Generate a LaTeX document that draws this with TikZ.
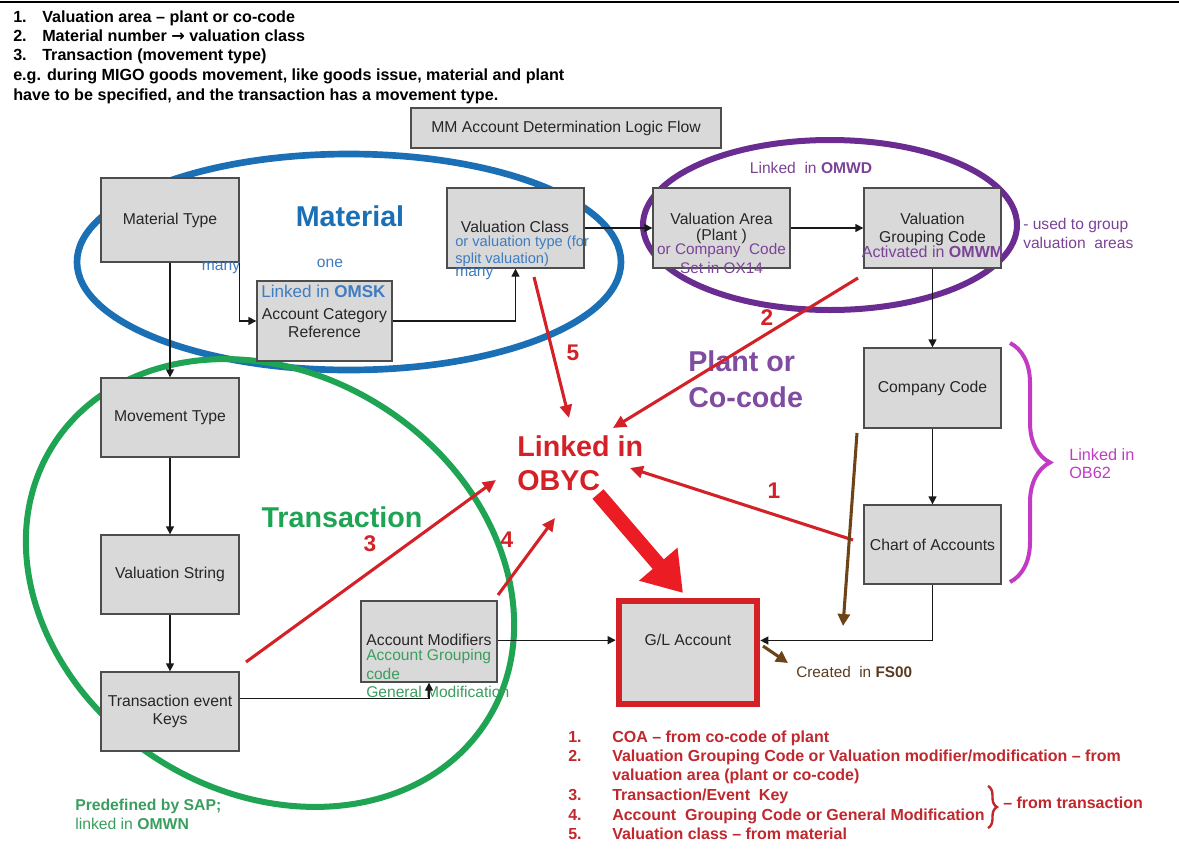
\documentclass[tikz,border=0pt]{standalone}
\usepackage{fontspec}
\setmainfont{Liberation Sans}
\newfontfamily\symfont{DejaVu Sans}
\usetikzlibrary{arrows.meta,decorations.pathreplacing,calc}
\definecolor{boxgray}{HTML}{D9D9D9}
\definecolor{boxline}{HTML}{4D4D4D}
\definecolor{mblue}{HTML}{1B6FB5}
\definecolor{tblue}{HTML}{3F7CC0}
\definecolor{mpurple}{HTML}{6A2C91}
\definecolor{tpurple}{HTML}{7B4397}
\definecolor{mgreen}{HTML}{1EA453}
\definecolor{tgreen}{HTML}{3A9E5E}
\definecolor{mred}{HTML}{D42027}
\definecolor{lred}{HTML}{C0282E}
\definecolor{fatred}{HTML}{EC1C24}
\definecolor{mbrown}{HTML}{6E4317}
\definecolor{tbrown}{HTML}{5A3B1F}
\definecolor{mmag}{HTML}{C23BC4}
\begin{document}
\begin{tikzpicture}[x=0.75pt,y=-0.75pt,
  box/.style={draw=boxline, fill=boxgray, line width=1pt, inner sep=0pt, align=center,
    font=\fontsize{11.8}{13.5}\selectfont, text=black!85},
  btext/.style={inner sep=0pt, align=center, font=\fontsize{11.8}{13.5}\selectfont, text=black!85},
  conn/.style={draw=black!90, line width=1pt, -{Triangle[length=6pt,width=6pt]}},
  redarr/.style={draw=mred, line width=2.3pt, -{Triangle[length=9.75pt,width=9pt]}},
  brownarr/.style={draw=mbrown, line width=2.3pt, -{Triangle[length=9pt,width=9pt]}},
  hdr/.style={anchor=base west, inner sep=0pt, font=\bfseries\fontsize{12.1}{14}\selectfont},
  small/.style={inner sep=0pt, font=\fontsize{11.7}{13}\selectfont},
  big/.style={inner sep=0pt, font=\bfseries\fontsize{21.5}{27}\selectfont},
  num/.style={inner sep=0pt, text=mred, font=\bfseries\fontsize{17}{20}\selectfont},
  leg/.style={anchor=base west, inner sep=0pt, text=lred, font=\bfseries\fontsize{12}{13}\selectfont}]
\useasboundingbox[fill=white] (0,0) rectangle (1179,858);
\draw[line width=1.5pt] (0,2) -- (1179,2);

% header
\node[hdr] (h1n) at (13,22.5) {1.};
\node[hdr] (h1) at (42,22.5) {Valuation area – plant or co-code};
\node[hdr] (h2n) at (13,41.5) {2.};
\node[hdr] (h2) at (42,41.5) {Material number {\symfont\bfseries →} valuation class};
\node[hdr] (h3n) at (13,60.5) {3.};
\node[hdr] (h3) at (42,60.5) {Transaction (movement type)};
\node[hdr] (h4) at (13,80.5) {e.g. during MIGO goods movement, like goods issue, material and plant};
\node[hdr] (h5) at (13,100.5) {have to be specified, and the transaction has a movement type.};

\node[box, minimum width=232.5pt, minimum height=30pt] (title) at (566,128) {MM Account Determination Logic Flow};

% ellipses
\draw[mblue, line width=5pt] (349,262) ellipse [x radius=204pt, y radius=81pt];
\draw[mpurple, line width=4.5pt] (830,225) ellipse [x radius=140.25pt, y radius=63.75pt];
\draw[mgreen, line width=4.5pt, rotate around={-32.5:(270,583)}] (270,583) ellipse [x radius=192.75pt, y radius=156.75pt];

% boxes
\node[box, minimum width=103.5pt, minimum height=63pt] (mattype) at (170,220) {Material Type};
\node[box, minimum width=101.25pt, minimum height=60pt] (acr) at (324.5,321) {\\[-2pt]Account Category\\Reference};
\node[box, minimum width=102.75pt, minimum height=60pt] (vclass) at (515.5,228) {};
\node[box, minimum width=102.75pt, minimum height=60pt] (varea) at (721.5,228) {};
\node[box, minimum width=102.75pt, minimum height=60pt] (vgc) at (932.5,228) {};
\node[box, minimum width=102.75pt, minimum height=60pt] (ccode) at (932.5,388) {Company Code};
\node[box, minimum width=102.75pt, minimum height=59.25pt] (coa) at (932.5,544.5) {Chart of Accounts};
\node[box, minimum width=103.5pt, minimum height=59.25pt] (movtype) at (170,417.5) {Movement Type};
\node[box, minimum width=103.5pt, minimum height=59.25pt] (valstr) at (170,574.5) {Valuation String};
\node[box, minimum width=103.5pt, minimum height=59.25pt] (tek) at (170,711.5) {Transaction event\\Keys};
\node[box, minimum width=102pt, minimum height=60.75pt] (accmod) at (429,641.5) {};
\node[box, draw=mred, line width=5pt, minimum width=103.5pt, minimum height=77.25pt] (gl) at (688,652.5) {};

% box texts
\node[btext] (vctext) at (515,227) {Valuation Class};
\node[small, anchor=west, text=tblue, align=left, font=\fontsize{11}{12.8}\selectfont] (vcsub) at (455,251) {or valuation type (for\\split valuation)};
\node[small, anchor=west, text=tblue] (many2) at (455,274) {many};
\node[btext, font=\fontsize{11.8}{12}\selectfont] (vatext) at (721.5,228) {Valuation Area\\(Plant )};
\node[inner sep=0pt, align=center, text=tpurple, font=\fontsize{11.5}{14}\selectfont] (vasub) at (721.5,258.5) {or Company\ \ Code\\Set in OX14};
\node[btext] (vgctext) at (932.5,229.5) {Valuation\\Grouping Code};
\node[small, text=tpurple, font=\fontsize{12}{13}\selectfont] (vgcsub) at (932.5,252) {Activated in \textbf{OMWM}};
\node[small, anchor=west, text=tblue, font=\fontsize{12.8}{14}\selectfont] (omsk) at (261,291) {Linked in \textbf{OMSK}};
\node[btext] (amtext) at (429,640) {Account Modifiers};
\node[small, anchor=west, text=tgreen, align=left, font=\fontsize{11.7}{13.9}\selectfont] (amsub) at (366,673.5) {Account Grouping\\code\\General Modification};
\node[btext] (gltext) at (688,640) {G/L Account};

% labels
\node[big, text=mblue] (matlbl) at (350,216) {Material};
\node[small, text=tblue] (many1) at (221,268) {many};
\node[small, text=tblue] (one) at (330,263) {one};
\node[small, text=tpurple] (omwd) at (811,168) {Linked\ \ in \textbf{OMWD}};
\node[small, anchor=west, text=tpurple, align=left, font=\fontsize{11.7}{14.3}\selectfont] (used) at (1023,233.5) {- used to group\\valuation\ \ areas};
\node[big, text=mpurple!85, align=left, anchor=west] (plant) at (688,379) {Plant or\\Co-code};
\node[big, text=mgreen] (trans) at (342,517) {Transaction};
\node[small, anchor=west, text=mmag, align=left, font=\fontsize{12.2}{13.5}\selectfont] (ob62) at (1069,464) {Linked in\\OB62};
\node[small, anchor=west, text=tgreen, align=left, font=\fontsize{11.8}{14.3}\selectfont] (omwn) at (75,814.5) {\textbf{Predefined by SAP;}\\linked in \textbf{OMWN}};
\node[small, anchor=west, text=tbrown, font=\fontsize{11.5}{13}\selectfont] (fs00) at (796,672) {Created\ \ in \textbf{FS00}};
\node[inner sep=0pt, anchor=west, text=mred, align=left, font=\bfseries\fontsize{21.5}{25.5}\selectfont] (obyc) at (517,463) {Linked in\\OBYC};

% black connectors
\draw[conn] (mattype.south) -- (movtype.north);
\draw[conn] (mattype.south east) |- (acr.west);
\draw[conn] (acr.east) -| (vclass.south);
\draw[conn] (vclass.east) -- (varea.west);
\draw[conn] (varea.east) -- (vgc.west);
\draw[conn] (vgc.south) -- (ccode.north);
\draw[conn] (ccode.south) -- (coa.north);
\draw[conn] (coa.south) |- ([yshift=9pt]gl.east);
\draw[conn] (movtype.south) -- (valstr.north);
\draw[conn] (valstr.south) -- (tek.north);
\draw[conn] ([yshift=10pt]tek.east) -| (accmod.south);
\draw[conn] ([yshift=1pt]accmod.east) -- ([yshift=1pt]accmod.east -| gl.west);

% red arrows
\coordinate (s5) at (534,277); \coordinate (e5) at (569,418);
\coordinate (s2) at (858,278); \coordinate (e2) at (613,428);
\coordinate (s1) at (853,540); \coordinate (e1) at (630,468);
\coordinate (s3) at (246,662); \coordinate (e3) at (496,480);
\coordinate (s4) at (498,595); \coordinate (e4) at (555,518);
\draw[redarr] (s5) -- (e5);
\draw[redarr] (s2) -- (e2);
\draw[redarr] (s1) -- (e1);
\draw[redarr] (s3) -- (e3);
\draw[redarr] (s4) -- (e4);
\coordinate (fs) at (598,494); \coordinate (fe) at (683,593);
\draw[draw=fatred, line width=11pt, -{Triangle[length=28.5pt,width=36pt]}] (fs) -- (fe);
\node[num] (n5) at (573,353) {5};
\node[num] (n2) at (767,318) {2};
\node[num] (n1) at (774,491) {1};
\node[num] (n3) at (370,544) {3};
\node[num] (n4) at (507,540) {4};

% brown arrows
\coordinate (b1s) at (857,433); \coordinate (b1e) at (843,626);
\draw[brownarr] (b1s) -- (b1e);
\coordinate (b2s) at (763,646); \coordinate (b2e) at (788,663);
\draw[brownarr] (b2s) -- (b2e);

% braces
\draw[mmag, line width=3pt, decorate, decoration={brace, amplitude=30pt}] (1010,343) -- (1010,582);
\draw[lred, line width=1.8pt, decorate, decoration={brace, amplitude=6.75pt}] (988,786) -- (988,828);

% legend
\node[leg] (l1n) at (568,742.5) {1.};
\node[leg] (l1) at (612,742.5) {COA – from co-code of plant};
\node[leg] (l2n) at (568,761.5) {2.};
\node[leg] (l2) at (612,761.5) {Valuation Grouping Code or Valuation modifier/modification – from};
\node[leg] (l2b) at (612,780.5) {valuation area (plant or co-code)};
\node[leg] (l3n) at (568,800.5) {3.};
\node[leg] (l3) at (612,800.5) {Transaction/Event\ \ Key};
\node[leg] (l4n) at (568,820.5) {4.};
\node[leg] (l4) at (612,820.5) {Account\ \ Grouping Code or General Modification};
\node[leg] (l5n) at (568,839.5) {5.};
\node[leg] (l5) at (612,839.5) {Valuation class – from material};
\node[leg] (lt) at (1003,808.5) {– from transaction};
\end{tikzpicture}
\end{document}
